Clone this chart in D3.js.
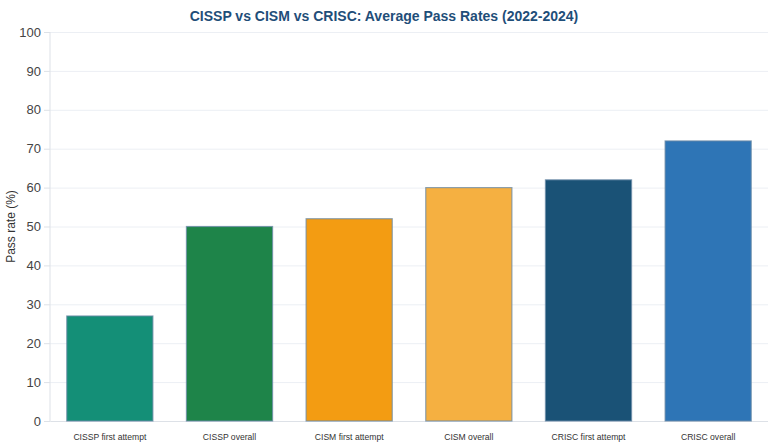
<!DOCTYPE html>
<html lang="en">
<head>
<meta charset="utf-8">
<script src="https://d3js.org/d3.v7.min.js"></script>
<style>
body { margin: 0; background: #fff; font-family: "Liberation Sans", Arial, sans-serif; }
.grid line { stroke: #eceff4; stroke-width: 1; }
.grid path { display: none; }
.axis--y text { font-size: 13px; fill: #444; }
.axis--x text { font-size: 8.6px; fill: #333; }
.axis path, .axis line { stroke: #dde1e7; }
</style>
</head>
<body>
<script>
var categories = ["CISSP first attempt", "CISSP overall", "CISM first attempt", "CISM overall", "CRISC first attempt", "CRISC overall"];
var passRates = [27, 50, 52, 60, 62, 72];
var colors = ["#148F77", "#1E8449", "#F39C12", "#F5B041", "#1A5276", "#2E75B6"];
var yTicks = [0, 10, 20, 30, 40, 50, 60, 70, 80, 90, 100];

var W = 768, H = 444;
var margin = {top: 32, right: 0, bottom: 23, left: 50};
var width = W - margin.left - margin.right,
    height = H - margin.top - margin.bottom;

var svg = d3.select("body").append("svg")
    .attr("width", W)
    .attr("height", H);

var g = svg.append("g")
    .attr("transform", "translate(" + margin.left + "," + margin.top + ")");

var x = d3.scaleBand().domain(categories).range([0, width]).paddingInner(0.28).paddingOuter(0.14);
var y = d3.scaleLinear().domain([0, 100]).range([height, 0]);

// gridlines
g.append("g")
    .attr("class", "grid")
    .call(d3.axisLeft(y).tickValues(yTicks).tickSize(-width).tickFormat(""));

g.append("g")
    .attr("class", "axis axis--y")
    .call(d3.axisLeft(y).tickValues(yTicks).tickSize(6).tickPadding(3))
    .select(".domain").attr("d", "M0,0V" + height);

g.append("g")
    .attr("class", "axis axis--x")
    .attr("transform", "translate(0," + height + ")")
    .call(d3.axisBottom(x).tickSize(0).tickPadding(13));

g.selectAll(".bar")
    .data(passRates)
    .enter().append("rect")
    .attr("class", "bar")
    .attr("x", function(d, i) { return x(categories[i]); })
    .attr("y", function(d) { return y(d); })
    .attr("width", x.bandwidth())
    .attr("height", function(d) { return height - y(d); })
    .attr("fill", function(d, i) { return colors[i]; })
    .attr("stroke", "#6a8aa6")
    .attr("stroke-opacity", 0.75)
    .attr("stroke-width", 1.2);

svg.append("text")
    .attr("x", W / 2)
    .attr("y", 21)
    .attr("text-anchor", "middle")
    .style("font-size", "14px")
    .style("font-weight", "bold")
    .style("fill", "#1F4E79")
    .text("CISSP vs CISM vs CRISC: Average Pass Rates (2022-2024)");

svg.append("text")
    .attr("transform", "translate(15," + (margin.top + height / 2) + ") rotate(-90)")
    .attr("text-anchor", "middle")
    .style("font-size", "12px")
    .style("fill", "#333")
    .text("Pass rate (%)");
</script>
</body>
</html>
